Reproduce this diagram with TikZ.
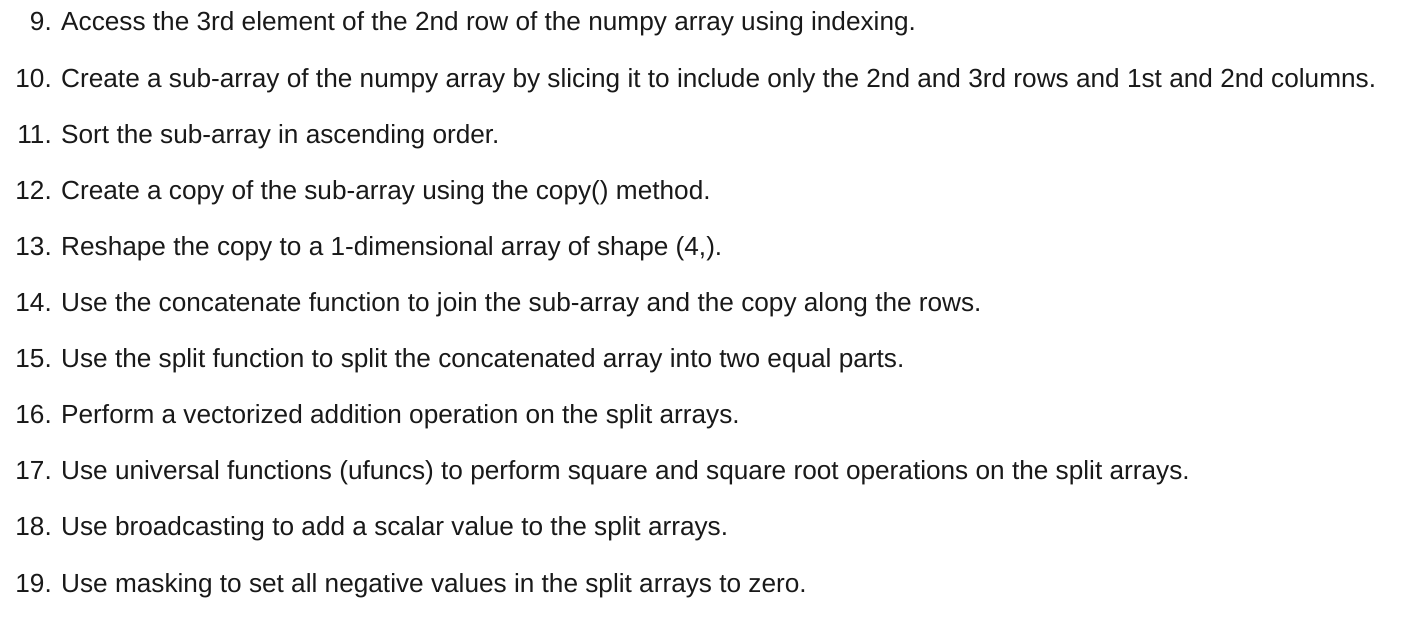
\documentclass[tikz,border=0pt]{standalone}
\usepackage{fontspec}
\setmainfont{Liberation Sans}
\begin{document}
\begin{tikzpicture}[x=1pt,y=1pt,
  num/.style={anchor=base east,inner sep=0pt,font=\fontsize{26.2}{30}\selectfont,text=black!90},
  item/.style={anchor=base west,inner sep=0pt,font=\fontsize{26.2}{30}\selectfont,text=black!90}]
\useasboundingbox (0,0) rectangle (1406,-620);
\foreach \n/\t [count=\i from 0] in {
 9/{Access the 3rd element of the 2nd row of the numpy array using indexing.},
 10/{Create a sub-array of the numpy array by slicing it to include only the 2nd and 3rd rows and 1st and 2nd columns.},
 11/{Sort the sub-array in ascending order.},
 12/{Create a copy of the sub-array using the copy() method.},
 13/{Reshape the copy to a 1-dimensional array of shape (4,).},
 14/{Use the concatenate function to join the sub-array and the copy along the rows.},
 15/{Use the split function to split the concatenated array into two equal parts.},
 16/{Perform a vectorized addition operation on the split arrays.},
 17/{Use universal functions (ufuncs) to perform square and square root operations on the split arrays.},
 18/{Use broadcasting to add a scalar value to the split arrays.},
 19/{Use masking to set all negative values in the split arrays to zero.}}
{
 \node[num] (n\i) at (52,{-31-56.1*\i}) {\n.};
 \node[item] (t\i) at (61,{-31-56.1*\i}) {\t};
}
\end{tikzpicture}
\end{document}
